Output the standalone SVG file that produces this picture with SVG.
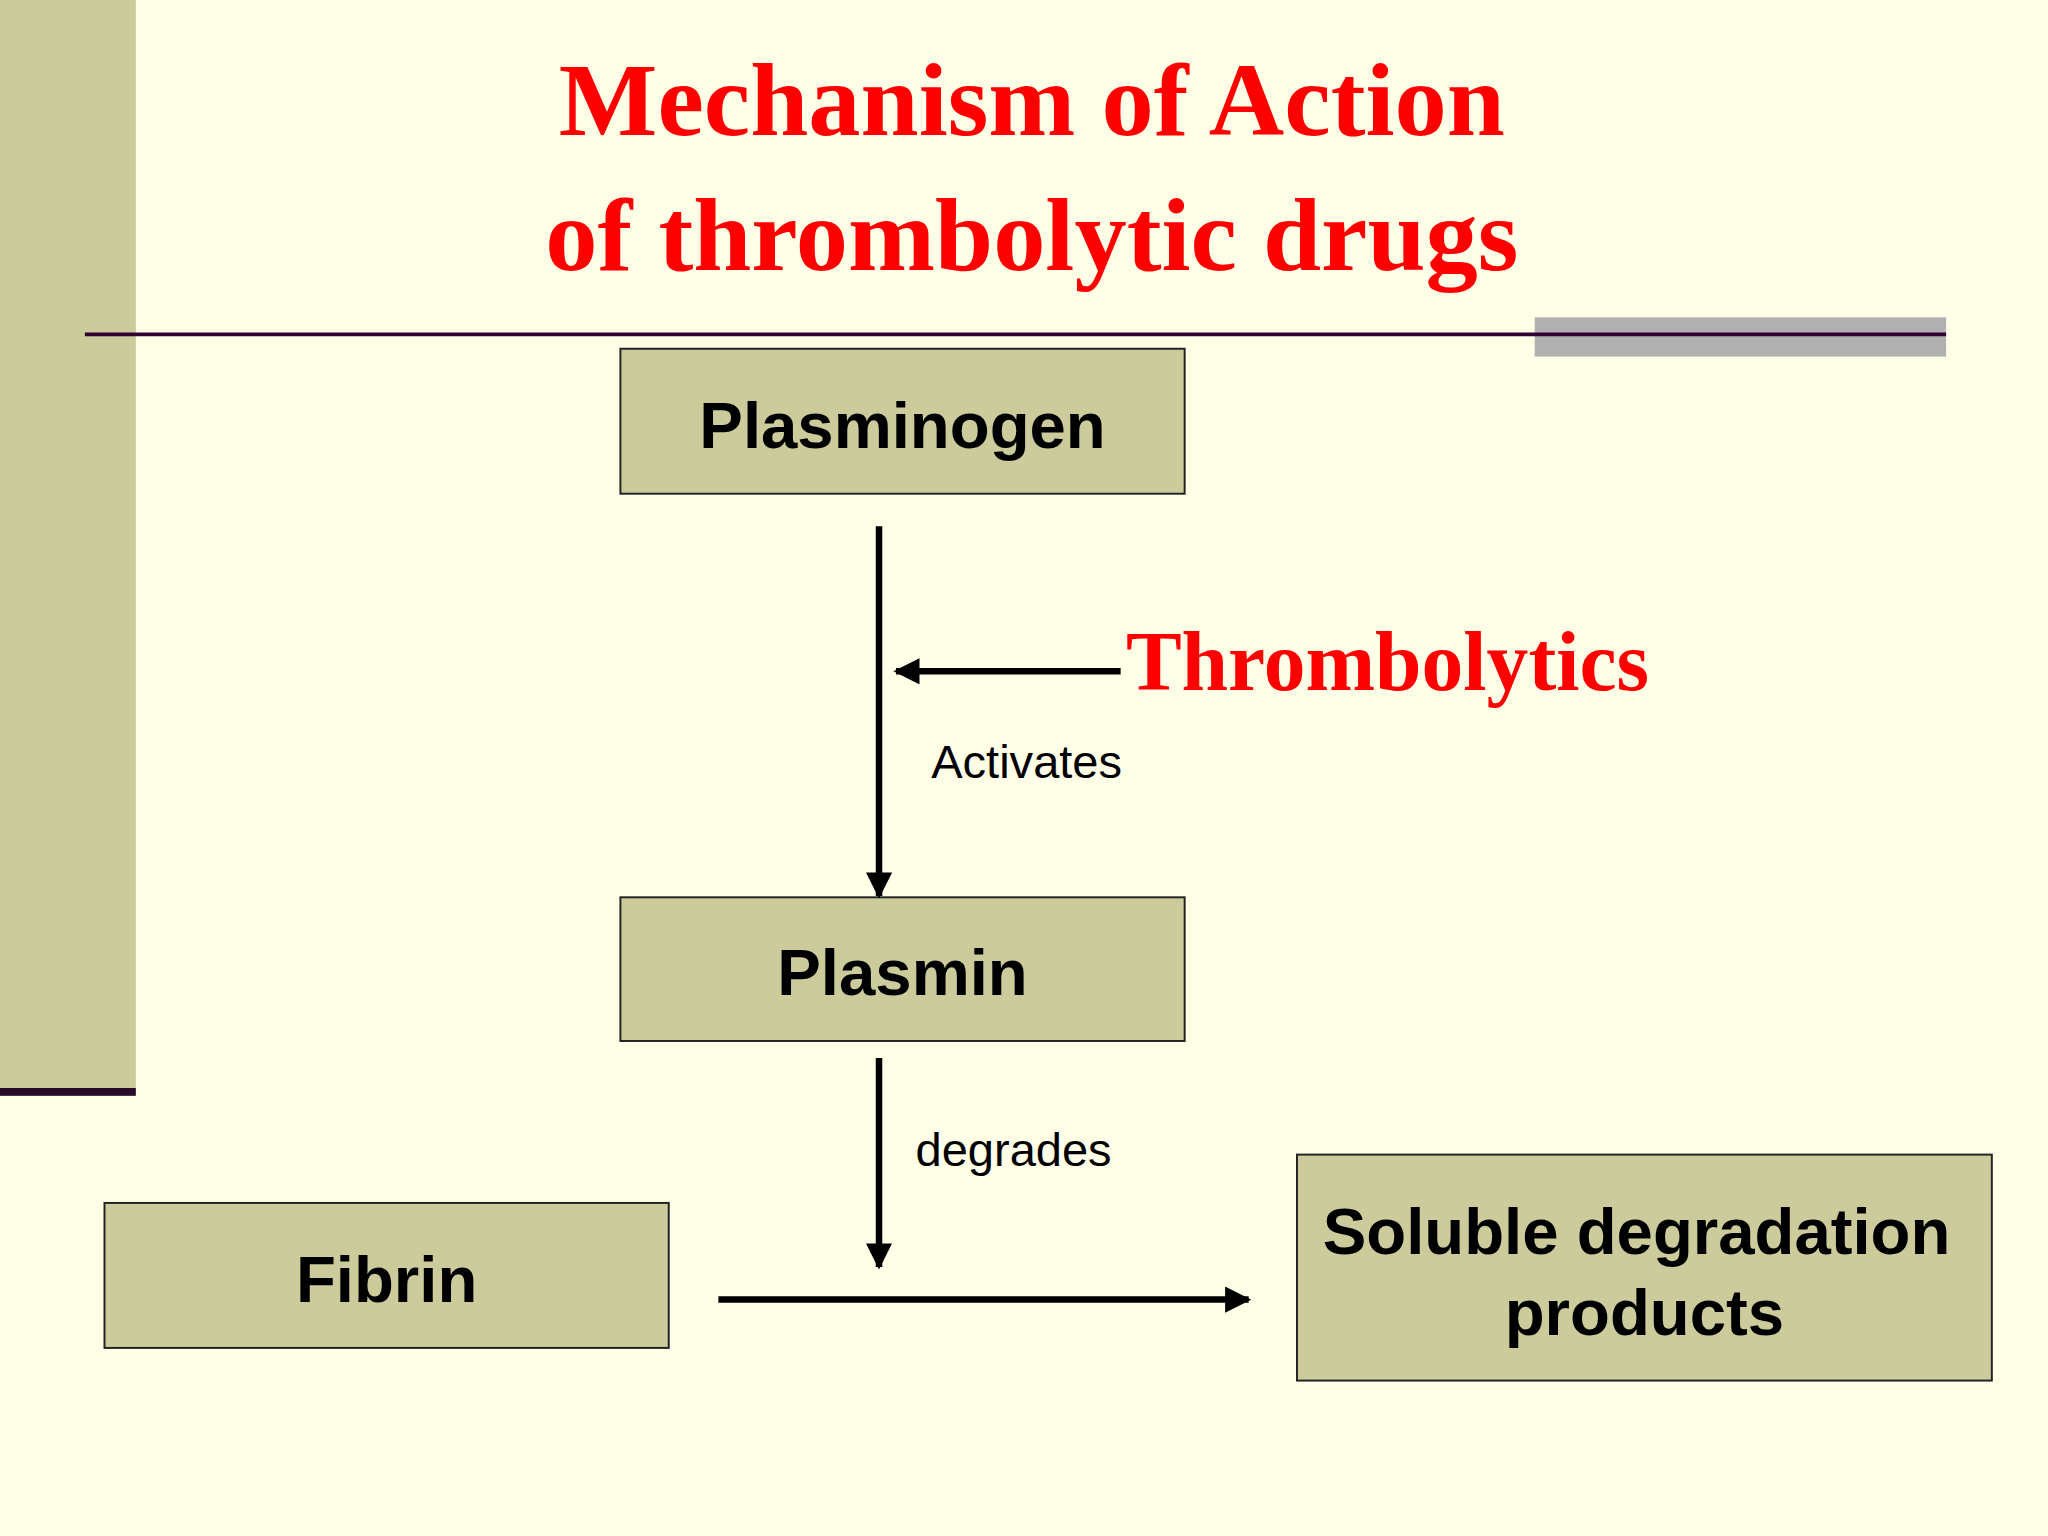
<svg xmlns="http://www.w3.org/2000/svg" width="2048" height="1536" viewBox="0 0 2048 1536">
<defs>
<marker id="ah" viewBox="0 0 10 10" refX="9" refY="5" markerWidth="4" markerHeight="4" orient="auto" markerUnits="strokeWidth"><path d="M0,0 L10,5 L0,10 z" fill="#000"/></marker>
<style>
.box{fill:#CBCB9B;stroke:#222;stroke-width:1.5}
.bt{font-family:"Liberation Sans",Arial,sans-serif;font-weight:bold;font-size:50px;text-anchor:middle;fill:#000}
.lbl{font-family:"Liberation Sans",Arial,sans-serif;font-size:36px;fill:#000}
.red{font-family:"Liberation Serif","Times New Roman",serif;font-weight:bold;fill:#FF0000}
.ln{stroke:#000;stroke-width:5;fill:none;marker-end:url(#ah)}
</style>
</defs>
<rect width="2048" height="1536" fill="#FFFFE8"/>
<g transform="scale(1.30612)">
<rect x="0" y="0" width="104" height="835" fill="#CBCB9B"/>
<rect x="0" y="833" width="104" height="6" fill="#2A0A2A"/>
<rect x="1175" y="243" width="315" height="30" fill="#B0B0B0"/>
<line x1="65" y1="256" x2="1490" y2="256" stroke="#330033" stroke-width="3"/>
<text class="red" x="790" y="103" font-size="80" text-anchor="middle">Mechanism of Action</text>
<text class="red" x="790" y="207" font-size="80" text-anchor="middle">of thrombolytic drugs</text>
<g id="plasminogen"><rect class="box" x="475" y="267" width="432" height="111"/><text class="bt" x="691" y="343">Plasminogen</text></g>
<g id="plasmin"><rect class="box" x="475" y="687" width="432" height="110"/><text class="bt" x="691" y="762">Plasmin</text></g>
<g id="fibrin"><rect class="box" x="80" y="921" width="432" height="111"/><text class="bt" x="296" y="997">Fibrin</text></g>
<g id="products"><rect class="box" x="993" y="884" width="532" height="173"/><text class="bt" x="1253" y="960">Soluble degradation</text><text class="bt" x="1259" y="1022">products</text></g>
<g id="thrombolytics"><text class="red" x="862" y="528" font-size="64">Thrombolytics</text></g>
<g id="connectors">
<line class="ln" x1="673" y1="403" x2="673" y2="686"/>
<line class="ln" x1="858" y1="514" x2="686" y2="514"/>
<line class="ln" x1="673" y1="810" x2="673" y2="970"/>
<line class="ln" x1="550" y1="995" x2="956" y2="995"/>
<text class="lbl" x="713" y="596">Activates</text>
<text class="lbl" x="701" y="893">degrades</text>
</g>
</g>
</svg>
